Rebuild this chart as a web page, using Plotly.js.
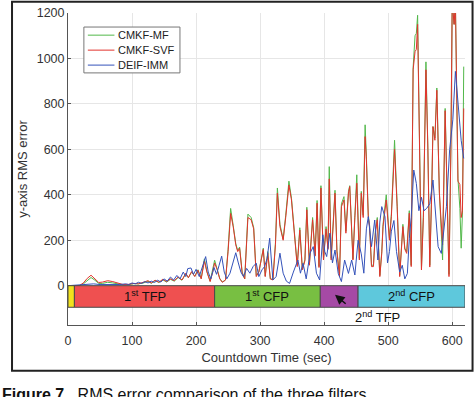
<!DOCTYPE html>
<html>
<head>
<meta charset="utf-8">
<script src="https://cdn.plot.ly/plotly-3.0.1.min.js"></script>
<style>html,body{margin:0;padding:0;background:#fff;}#chart{width:474px;height:397px;}</style>
</head>
<body>
<div id="chart"></div>
<script>
// time vertices shared by CMKF-MF and CMKF-SVF
var tA = [0,10,18,24,30,36,42,48,54,62,70,78,86,95,103,110,118,125,130,136,142,148,154,160,166,172,178,184,188,193,198,203,208,213,217,222,226,229,233,237,241,246,250,254,258,262,265,268,272,276,281,286,290,294,298,302,305,308,312,316,320,324,327,331,336,340,345,349,354,358,362,366,370,373,377,382,386,389,392,395,399,403,406,408,411,414,417,420,424,427,431,434,438,440,445,448,451,455,458,461,464,466,469,471,474,477,480,483,487,490,492,497,502,505,510,514,518,523,526,529,533,536,539,542,544,546,552,555,559,562,565,568,570,573,576,580,585,589,595,598,600,603,605,609,612,614,616,618];
var cmkfSVF = [0,0,1,12,32,46,32,14,16,22,18,10,5,6,10,8,15,22,12,24,15,28,18,30,22,38,25,55,35,62,40,68,30,108,60,18,60,100,70,30,15,25,150,318,260,180,150,165,55,30,300,290,250,40,60,110,160,40,143,30,25,180,407,260,200,300,443,377,230,84,245,70,110,334,90,290,130,363,80,430,113,250,160,470,113,250,407,150,40,348,377,231,407,436,113,300,451,113,407,300,656,554,300,260,84,84,230,290,40,142,260,377,200,304,600,348,40,260,160,142,319,84,950,1030,1040,1150,69,300,950,600,82,400,700,640,860,407,180,770,40,600,1250,1150,1250,460,445,300,330,780];
var cmkfMF = [0,0,1,8,24,36,24,10,10,15,12,7,4,5,9,8,12,20,10,22,14,26,16,28,20,36,24,52,35,60,42,70,32,118,62,20,65,112,72,32,16,25,160,340,265,185,155,170,60,30,315,300,255,45,60,115,165,42,150,30,28,190,430,270,205,310,460,385,235,90,255,72,115,345,95,300,135,375,85,440,118,260,165,524,120,260,420,155,45,360,392,240,415,440,118,310,488,120,415,310,708,570,310,265,90,90,240,300,45,150,270,400,210,315,640,360,45,270,165,150,330,90,960,1100,1110,1190,75,310,985,610,90,420,700,650,870,410,113,780,50,620,1250,1150,1250,470,340,165,320,964];
// time vertices for DEIF-IMM
var tB = [0,20,30,40,50,60,70,80,90,95,100,105,110,115,120,125,130,135,140,145,150,155,160,165,170,175,180,184,187,192,196,200,205,210,215,219,223,228,232,236,240,244,248,253,257,262,266,270,274,279,284,289,294,298,303,307,311,315,320,325,331,336,341,346,352,359,363,367,372,378,383,388,393,398,401,404,409,413,417,422,427,432,438,443,448,453,458,462,466,469,474,479,484,487,490,495,499,502,505,509,513,518,522,526,530,533,536,540,544,548,552,556,560,565,570,574,578,583,587,591,596,601,605,609,614,618];
var deifIMM = [0,3,6,8,5,4,3,5,8,5,12,8,15,10,18,12,20,14,24,16,30,20,38,25,45,30,60,40,75,78,50,72,40,90,128,60,30,80,50,90,130,60,30,55,100,145,100,60,40,76,55,84,99,40,70,84,120,209,25,40,143,55,20,10,60,113,55,99,30,143,172,55,25,224,150,128,231,100,157,54,18,113,54,113,47,200,140,55,250,304,172,289,113,280,348,304,100,150,240,287,150,60,90,30,54,208,300,509,450,330,389,330,340,360,465,300,172,142,250,348,598,730,943,789,640,560];

var seriesNames = ['CMKF-MF','CMKF-SVF','DEIF-IMM'];
var seriesColors = ['#52b84a','#e2342e','#3452ba'];

// flight phase bars
var phaseStart = [0,10,229,394,453];
var phaseEnd = [10,229,394,453,620];
var phaseColors = ['#f2e21c','#ef5050','#78bf42','#a54aa5','#5ec8dc'];
var phaseLabels = ['', '1<sup>st</sup> TFP', '1<sup>st</sup> CFP', '', '2<sup>nd</sup> CFP'];
var phaseBottom = -95;

var xTicks = [0,100,200,300,400,500,600];
var yTicks = [0,200,400,600,800,1000,1200];

var traces = [
  {x: tA, y: cmkfMF, name: seriesNames[0]},
  {x: tA, y: cmkfSVF, name: seriesNames[1]},
  {x: tB, y: deifIMM, name: seriesNames[2]}
].map(function(tr, i){
  tr.type = 'scatter'; tr.mode = 'lines';
  tr.line = {color: seriesColors[i], width: 1};
  tr.showlegend = false;
  return tr;
});

var shapes = [];
var annotations = [];
for (var i = 0; i < phaseStart.length; i++) {
  shapes.push({type:'rect', xref:'x', yref:'y', x0: phaseStart[i], x1: phaseEnd[i], y0: phaseBottom, y1: 0,
    fillcolor: phaseColors[i], line:{color:'#4a4a4a', width:1}, layer:'above'});
  if (phaseLabels[i]) {
    annotations.push({xref:'x', yref:'y', x:(phaseStart[i]+phaseEnd[i])/2, y: phaseBottom/2, text: phaseLabels[i],
      showarrow:false, font:{size:13, color:'#111'}});
  }
}
annotations.push({xref:'x', yref:'y', x:(phaseStart[3]+phaseEnd[3])/2 + 60, y:-138, text:'2<sup>nd</sup> TFP', showarrow:false, font:{size:13,color:'#111'}});
annotations.push({xref:'x', yref:'y', x:417, y:-40, axref:'x', ayref:'y', ax:436, ay:-85, text:'', showarrow:true, arrowhead:2, arrowsize:1.2, arrowwidth:1.6, arrowcolor:'#111'});

// custom legend box (inside plot, upper left)
shapes.push({type:'rect', xref:'paper', yref:'paper', x0:0.040, x1:0.282, y0:0.808, y1:0.955, fillcolor:'#fff', line:{color:'#777', width:1}, layer:'above'});
var legY = [0.929, 0.881, 0.833];
for (var k = 0; k < seriesNames.length; k++) {
  shapes.push({type:'line', xref:'paper', yref:'paper', x0:0.050, x1:0.117, y0:legY[k], y1:legY[k], line:{color:seriesColors[k], width:1}, layer:'above'});
  annotations.push({xref:'paper', yref:'paper', x:0.122, y:legY[k], xanchor:'left', yanchor:'middle', text:seriesNames[k], showarrow:false, font:{size:11, color:'#222'}});
}

// caption (cut off at bottom of the page, as in the source)
annotations.push({xref:'paper', yref:'paper', x:-0.172, y:-0.19, xanchor:'left', yanchor:'top', showarrow:false,
  text:'<b>Figure 7.</b>  RMS error comparison of the three filters', font:{size:16, color:'#111'}});
// outer frame
shapes.push({type:'rect', xref:'paper', yref:'paper', x0:-0.141, x1:1.019, y0:-0.147, y1:1.036, line:{color:'#222', width:2}, fillcolor:'rgba(0,0,0,0)', layer:'below'});

var layout = {
  width: 474, height: 397,
  margin: {l:68, r:9, t:13, b:72},
  paper_bgcolor:'#fff', plot_bgcolor:'#fff',
  font: {family:'Liberation Sans, Arial, sans-serif', size:12, color:'#333'},
  showlegend: false,
  xaxis: {range:[0,620], tickvals:xTicks, ticks:'inside', ticklen:3, tickcolor:'#555', showgrid:true, gridcolor:'#e6e6e6',
    zeroline:false, showline:true, linecolor:'#555', linewidth:1, tickfont:{size:12.5, color:'#333'}, ticklabelstandoff:4,
    title:{text:'Countdown Time (sec)', font:{size:13, color:'#333'}, standoff:5}},
  yaxis: {range:[-173,1200], tickvals:yTicks, ticks:'inside', ticklen:3, tickcolor:'#555', showgrid:true, gridcolor:'#e6e6e6',
    zeroline:false, showline:true, linecolor:'#555', linewidth:1, tickfont:{size:12.5, color:'#333'},
    title:{text:'y-axis RMS error', font:{size:13, color:'#333'}, standoff:6}},
  shapes: shapes,
  annotations: annotations
};

Plotly.newPlot('chart', traces, layout, {displayModeBar:false, staticPlot:true});
</script>
</body>
</html>
